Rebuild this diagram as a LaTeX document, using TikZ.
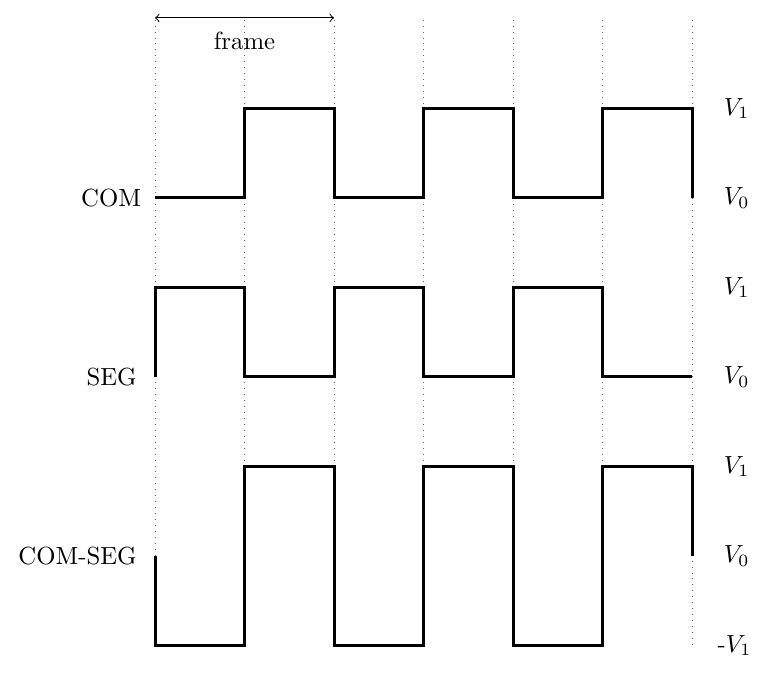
\documentclass[tikz,border=0pt]{standalone}
\begin{document}
\begin{tikzpicture}[x=1.27cm,y=1.27cm,
  wave/.style={line width=1.2pt},
  grid/.style={dotted,gray!80!black},
  lbl/.style={anchor=east,inner sep=0pt},
  vlbl/.style={anchor=west,inner sep=0pt}]
\useasboundingbox (0,0) rectangle (8.536,-7.799);
% grid lines
\foreach \i in {0,...,6}
  \draw[grid] (1.732+\i,-0.22) -- (1.732+\i,-7.207);
% frame arrow
\coordinate (fa) at (1.732,-0.2);
\coordinate (fb) at (3.732,-0.2);
\draw[<->] (fa) -- (fb);
\node (frame) at (2.732,-0.46) {frame};
% COM
\begin{scope}[shift={(1.732,-2.212)}]
\draw[wave] (0,0)--(1,0)--(1,1)--(2,1)--(2,0)--(3,0)--(3,1)--(4,1)--(4,0)--(5,0)--(5,1)--(6,1)--(6,0);
\node[lbl] (com) at (-0.15,0) {COM};
\node[vlbl] (c1) at (6.35,1) {$V_1$};
\node[vlbl] (c0) at (6.35,0) {$V_0$};
\end{scope}
% SEG
\begin{scope}[shift={(1.732,-4.212)}]
\draw[wave] (0,0)--(0,1)--(1,1)--(1,0)--(2,0)--(2,1)--(3,1)--(3,0)--(4,0)--(4,1)--(5,1)--(5,0)--(6,0);
\node[lbl] (seg) at (-0.2,0) {SEG};
\node[vlbl] (s1) at (6.35,1) {$V_1$};
\node[vlbl] (s0) at (6.35,0) {$V_0$};
\end{scope}
% COM-SEG
\begin{scope}[shift={(1.732,-6.212)}]
\draw[wave] (0,0)--(0,-1)--(1,-1)--(1,1)--(2,1)--(2,-1)--(3,-1)--(3,1)--(4,1)--(4,-1)--(5,-1)--(5,1)--(6,1)--(6,0);
\node[lbl] (cs) at (-0.2,0) {COM-SEG};
\node[vlbl] (d1) at (6.35,1) {$V_1$};
\node[vlbl] (d0) at (6.35,0) {$V_0$};
\node[vlbl] (dm) at (6.28,-1) {-$V_1$};
\end{scope}
\end{tikzpicture}
\end{document}
